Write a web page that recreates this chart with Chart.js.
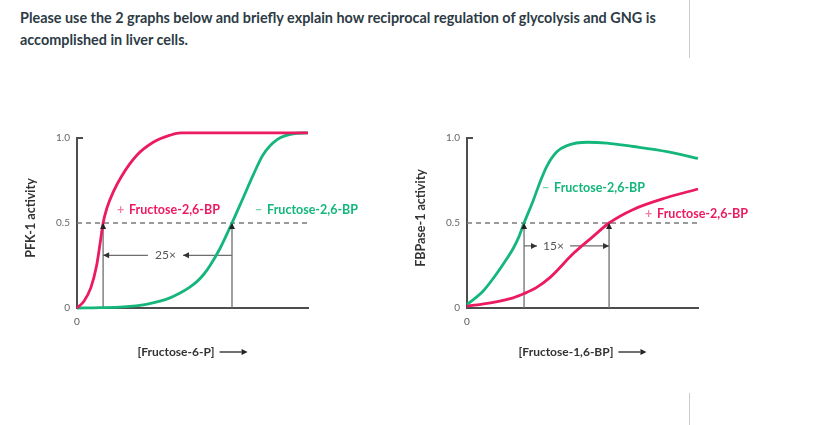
<!DOCTYPE html>
<html><head><meta charset="utf-8">
<script src="https://cdn.jsdelivr.net/npm/chart.js@4.4.1/dist/chart.umd.min.js"></script>
<style>
html,body{margin:0;padding:0;background:#fff;width:814px;height:425px;overflow:hidden;}
#q{position:absolute;left:20px;top:7px;white-space:nowrap;font:700 14.4px/22px Lato,sans-serif;color:#2d3b45;}
.vr{position:absolute;left:689px;width:1px;background:#c8ccd0;}
#w1{position:absolute;left:0;top:100px;width:400px;height:280px;}
#w2{position:absolute;left:400px;top:100px;width:414px;height:280px;}
</style></head><body>
<div id="q">Please use the 2 graphs below and briefly explain how reciprocal regulation of glycolysis and GNG is<br>accomplished in liver cells.</div>
<div class="vr" style="top:0;height:58px"></div>
<div class="vr" style="top:393px;height:32px"></div>
<div id="w1"><canvas id="c1" width="400" height="280"></canvas></div>
<div id="w2"><canvas id="c2" width="414" height="280"></canvas></div>
<script>
// ---- shared axis data ----
const yTickValues = [0, 0.5, 1];
const yTickLabels = ['0', '0.5', '1.0'];
const xTickValues = [0];
const xTickLabels = ['0'];
const halfActivity = 0.5;

// ---- Left graph: PFK-1 activity vs [Fructose-6-P] ----
const pfkPlusConc  = [0, 0.03, 0.06, 0.085, 0.1, 0.113, 0.13, 0.156, 0.195, 0.26, 0.33, 0.4, 0.45, 1.0];
const pfkPlusAct   = [0, 0.04, 0.12, 0.25, 0.38, 0.5, 0.59, 0.68, 0.78, 0.9, 0.975, 1.015, 1.03, 1.03];
const pfkMinusConc = [0, 0.1, 0.2, 0.3, 0.359, 0.4, 0.446, 0.485, 0.519, 0.55, 0.576, 0.619, 0.671, 0.719, 0.762, 0.805, 0.866, 0.935, 1.0];
const pfkMinusAct  = [0, 0.002, 0.007, 0.022, 0.04, 0.058, 0.088, 0.12, 0.155, 0.2, 0.25, 0.35, 0.5, 0.647, 0.78, 0.9, 0.99, 1.025, 1.03];
const pfkHalfConc  = [0.113, 0.671];
const pfkFoldText  = '25×';

// ---- Right graph: FBPase-1 activity vs [Fructose-1,6-BP] ----
const fbpMinusConc = [0, 0.07, 0.143, 0.17, 0.2, 0.225, 0.247, 0.286, 0.316, 0.346, 0.39, 0.433, 0.52, 0.606, 0.72, 0.866, 1.0];
const fbpMinusAct  = [0.02, 0.1, 0.23, 0.285, 0.35, 0.42, 0.5, 0.63, 0.74, 0.835, 0.92, 0.955, 0.975, 0.97, 0.95, 0.92, 0.88];
const fbpPlusConc  = [0, 0.1, 0.2, 0.247, 0.3, 0.36, 0.46, 0.545, 0.615, 0.72, 0.866, 1.0];
const fbpPlusAct   = [0.01, 0.03, 0.06, 0.085, 0.12, 0.18, 0.32, 0.42, 0.5, 0.58, 0.65, 0.70];
const fbpHalfConc  = [0.247, 0.615];
const fbpFoldText  = '15×';

const RED = '#EC1A60', GREEN = '#14B67C', RED_L = '#F47FA3', GREEN_L = '#74D3A9';
const AXIS = '#4d4d4d', GUIDE = '#6e6e6e', FONT = 'Lato, sans-serif';

function pts(xs, ys) { return xs.map((x, i) => ({x: x, y: ys[i]})); }

function tri(ctx, px, py, dir) {
  const s = 6, h = 3;
  ctx.beginPath();
  if (dir === 'up') { ctx.moveTo(px, py); ctx.lineTo(px - h, py + s); ctx.lineTo(px + h, py + s); }
  else if (dir === 'left') { ctx.moveTo(px, py); ctx.lineTo(px + s, py - h); ctx.lineTo(px + s, py + h); }
  else { ctx.moveTo(px, py); ctx.lineTo(px - s, py - h); ctx.lineTo(px - s, py + h); }
  ctx.closePath(); ctx.fill();
}

function makeDecor(cfg) {
  return {
    id: 'decor',
    afterDraw(chart) {
      const {ctx, chartArea: a, scales: {x, y}} = chart;
      ctx.save();
      // top cap of y axis
      ctx.strokeStyle = AXIS; ctx.lineWidth = 2;
      const yTop = y.getPixelForValue(1);
      ctx.beginPath(); ctx.moveTo(a.left, yTop); ctx.lineTo(a.left + 6, yTop); ctx.stroke();
      // arrowheads at half-activity points
      ctx.fillStyle = '#222';
      cfg.half.forEach(k => tri(ctx, x.getPixelForValue(k), y.getPixelForValue(halfActivity), 'up'));
      // fold-change arrow
      const f = cfg.fold, fy = y.getPixelForValue(f.y);
      ctx.fillStyle = '#333';
      if (f.dir === 'left') {
        tri(ctx, x.getPixelForValue(cfg.half[0]), fy, 'left');
        tri(ctx, x.getPixelForValue(f.gapR), fy, 'left');
      } else {
        tri(ctx, x.getPixelForValue(f.gapL), fy, 'right');
        tri(ctx, x.getPixelForValue(cfg.half[1]), fy, 'right');
      }
      ctx.fillStyle = '#555';
      ctx.font = '400 12px ' + FONT;
      ctx.textAlign = 'center'; ctx.textBaseline = 'middle';
      ctx.fillText(f.text, x.getPixelForValue((f.gapL + f.gapR) / 2), fy);
      // curve labels
      ctx.textAlign = 'left';
      cfg.labels.forEach(l => {
        const px = x.getPixelForValue(l.x), py = y.getPixelForValue(l.y);
        ctx.font = '700 12.5px ' + FONT;
        ctx.fillStyle = l.signColor; ctx.fillText(l.sign, px, py);
        ctx.fillStyle = l.color; ctx.fillText(l.text, px + 12, py);
      });
      // y axis title
      ctx.save();
      ctx.translate(cfg.yTitleX, cfg.yTitleY);
      ctx.rotate(-Math.PI / 2);
      ctx.font = '700 12.5px ' + FONT; ctx.fillStyle = '#333';
      ctx.textAlign = 'center'; ctx.textBaseline = 'middle';
      ctx.fillText(cfg.yTitle, 0, 0);
      ctx.restore();
      // x axis title with arrow
      ctx.font = '700 12px ' + FONT; ctx.fillStyle = '#333';
      const w = ctx.measureText(cfg.xTitle).width, L = 28, gap = 5;
      const cx = (a.left + a.right) / 2, sx = cx - (w + gap + L) / 2, ty = cfg.xTitleY;
      ctx.textAlign = 'left'; ctx.textBaseline = 'middle';
      ctx.fillText(cfg.xTitle, sx, ty);
      ctx.strokeStyle = '#222'; ctx.lineWidth = 1.3;
      ctx.beginPath(); ctx.moveTo(sx + w + gap, ty); ctx.lineTo(sx + w + gap + L - 6, ty); ctx.stroke();
      ctx.fillStyle = '#222'; tri(ctx, sx + w + gap + L, ty, 'right');
      ctx.restore();
    }
  };
}

function build(id, cfg) {
  const line = (d, color, w, extra) => Object.assign({data: d, borderColor: color, borderWidth: w,
    pointRadius: 0, clip: false, fill: false}, extra || {});
  const f = cfg.fold;
  const datasets = [
    line(pts(cfg.a.x, cfg.a.y), cfg.a.color, 2.8, {label: cfg.a.label, cubicInterpolationMode: 'monotone'}),
    line(pts(cfg.b.x, cfg.b.y), cfg.b.color, 2.8, {label: cfg.b.label, cubicInterpolationMode: 'monotone'}),
    line([{x: 0, y: halfActivity}, {x: 1, y: halfActivity}], '#7a7a7a', 1.3, {label: 'half', borderDash: [5, 4]}),
    ...cfg.half.map(k => line([{x: k, y: 0}, {x: k, y: halfActivity}], GUIDE, 1.3, {label: 'k'})),
    line([{x: cfg.half[0], y: f.y}, {x: f.gapL, y: f.y}, {x: (f.gapL + f.gapR) / 2, y: null},
          {x: f.gapR, y: f.y}, {x: cfg.half[1], y: f.y}], GUIDE, 1.3, {label: 'fold', spanGaps: false})
  ];
  return new Chart(document.getElementById(id), {
    type: 'line',
    data: {datasets},
    options: {
      responsive: false, animation: false, devicePixelRatio: 1,
      layout: {padding: {left: cfg.padL, top: 38, right: cfg.padR, bottom: 42}},
      plugins: {legend: {display: false}, tooltip: {enabled: false}},
      scales: {
        x: {type: 'linear', min: 0, max: 1,
            grid: {display: false, drawTicks: false}, border: {display: true, color: AXIS, width: 2},
            afterBuildTicks: s => { s.ticks = xTickValues.map(v => ({value: v})); },
            ticks: {color: '#555', font: {family: FONT, size: 10}, padding: 8, maxRotation: 0, autoSkip: false,
                    callback: v => { const i = xTickValues.indexOf(v); return i < 0 ? '' : xTickLabels[i]; }},
            afterFit: s => { s.height = 30; }},
        y: {type: 'linear', min: 0, max: 1,
            grid: {display: false, drawTicks: false}, border: {display: true, color: AXIS, width: 2},
            afterBuildTicks: s => { s.ticks = yTickValues.map(v => ({value: v})); },
            ticks: {color: '#666', font: {family: FONT, size: 10}, padding: 7, autoSkip: false,
                    callback: v => { const i = yTickValues.indexOf(v); return i < 0 ? '' : yTickLabels[i]; }},
            afterFit: s => { s.width = cfg.yWidth; }}
      }
    },
    plugins: [makeDecor(cfg)]
  });
}

build('c1', {
  padL: 20, yWidth: 57, padR: 92,
  a: {x: pfkPlusConc, y: pfkPlusAct, color: RED, label: '+ Fructose-2,6-BP'},
  b: {x: pfkMinusConc, y: pfkMinusAct, color: GREEN, label: '− Fructose-2,6-BP'},
  half: pfkHalfConc,
  fold: {y: 0.31, gapL: 0.307, gapR: 0.459, dir: 'left', text: pfkFoldText},
  labels: [
    {x: 0.173, y: 0.576, sign: '+', signColor: RED_L, text: 'Fructose-2,6-BP', color: RED},
    {x: 0.771, y: 0.576, sign: '−', signColor: GREEN_L, text: 'Fructose-2,6-BP', color: GREEN}
  ],
  yTitle: 'PFK-1 activity', yTitleX: 31, yTitleY: 118,
  xTitle: '[Fructose-6-P]', xTitleY: 252
});

build('c2', {
  padL: 11, yWidth: 56, padR: 116,
  a: {x: fbpPlusConc, y: fbpPlusAct, color: RED, label: '+ Fructose-2,6-BP'},
  b: {x: fbpMinusConc, y: fbpMinusAct, color: GREEN, label: '− Fructose-2,6-BP'},
  half: fbpHalfConc,
  fold: {y: 0.365, gapL: 0.303, gapR: 0.446, dir: 'right', text: fbpFoldText},
  labels: [
    {x: 0.325, y: 0.706, sign: '−', signColor: GREEN_L, text: 'Fructose-2,6-BP', color: GREEN},
    {x: 0.771, y: 0.553, sign: '+', signColor: RED_L, text: 'Fructose-2,6-BP', color: RED}
  ],
  yTitle: 'FBPase-1 activity', yTitleX: 21, yTitleY: 118,
  xTitle: '[Fructose-1,6-BP]', xTitleY: 252
});
</script>
</body></html>
